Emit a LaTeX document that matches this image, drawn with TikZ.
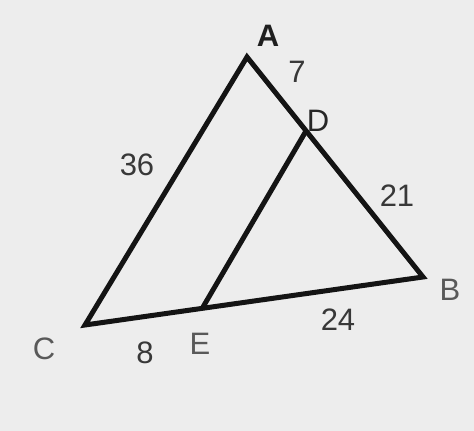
\documentclass[tikz,border=0pt]{standalone}
\usepackage{fontspec}
\setmainfont{Liberation Sans}
\begin{document}
\begin{tikzpicture}[x=1pt,y=-1pt,
  edge/.style={line width=5pt,line join=miter,draw=black!92},
  lbl/.style={font=\fontsize{31}{31}\selectfont,text=black!78},
  vlbl/.style={font=\fontsize{31}{31}\selectfont,text=black!65}]
\fill[black!7] (0,0) rectangle (474,431);
\useasboundingbox (0,0) rectangle (474,431);
\coordinate (A) at (247,57);
\coordinate (B) at (423,277);
\coordinate (C) at (85,325);
\coordinate (D) at (306,131);
\coordinate (E) at (203,307);
\draw[edge] (A) -- (B) -- (C) -- cycle;
\draw[edge] (D) -- (E);
\node[vlbl,text=black!88,font=\bfseries\fontsize{31}{31}\selectfont] (lA) at (268,36) {A};
\node[vlbl,text=black!85] (lD) at (318,121) {D};
\node[vlbl] (lB) at (450,290) {B};
\node[vlbl] (lC) at (44,349) {C};
\node[vlbl] (lE) at (200,344) {E};
\node[lbl] (n7) at (297,72) {7};
\node[lbl] (n36) at (137,165) {36};
\node[lbl] (n21) at (397,196) {21};
\node[lbl] (n24) at (338,320) {24};
\node[lbl] (n8) at (145,353) {8};
\end{tikzpicture}
\end{document}
